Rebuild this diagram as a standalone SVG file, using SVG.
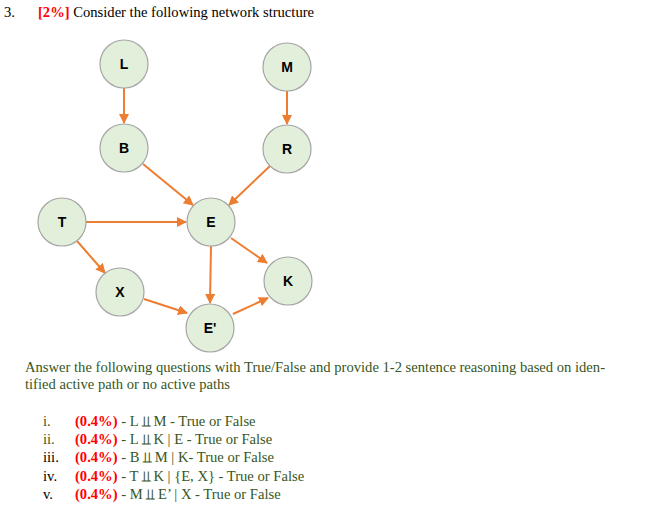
<svg xmlns="http://www.w3.org/2000/svg" width="667" height="518" viewBox="0 0 667 518">
<style>
.n{fill:#E2EFDA;stroke:#A5A5A5;stroke-width:1.2}
.l{font-family:"Liberation Sans",Arial,sans-serif;font-weight:bold;font-size:14px;text-anchor:middle;fill:#000}
.c{stroke:#ED7D31;stroke-width:2;fill:none;marker-end:url(#a)}
.t{font-family:"Liberation Serif","Times New Roman",serif;font-size:14.6px;fill:#000}
.g{fill:#375623}
.r{fill:#FF0000;font-weight:bold}
</style>
<defs><marker id="a" viewBox="0 0 10 10" refX="9" refY="5" markerWidth="5" markerHeight="5" orient="auto"><path d="M0,0L10,5L0,10z" fill="#ED7D31"/></marker></defs>
<rect width="667" height="518" fill="#fff"/>
<text class="t" x="4" y="17">3.<tspan x="38" class="r">[2%]</tspan><tspan> Consider the following network structure</tspan></text>
<g id="connectors">
<line class="c" x1="124" y1="88" x2="124" y2="123"/>
<line class="c" x1="287" y1="91" x2="287" y2="124"/>
<line class="c" x1="143" y1="164" x2="193" y2="205"/>
<line class="c" x1="270" y1="166" x2="229" y2="205"/>
<line class="c" x1="86" y1="222" x2="186" y2="222"/>
<line class="c" x1="77" y1="241" x2="105" y2="273"/>
<line class="c" x1="231" y1="238" x2="267" y2="263"/>
<line class="c" x1="211" y1="246" x2="210" y2="303"/>
<line class="c" x1="144" y1="299" x2="187" y2="313"/>
<line class="c" x1="233" y1="314" x2="268" y2="298"/>
</g>
<g id="L"><circle class="n" cx="124" cy="64" r="24"/><text class="l" x="124" y="69">L</text></g>
<g id="M"><circle class="n" cx="287" cy="67" r="24"/><text class="l" x="287" y="72">M</text></g>
<g id="B"><circle class="n" cx="124" cy="148" r="24"/><text class="l" x="124" y="153">B</text></g>
<g id="R"><circle class="n" cx="287" cy="149" r="24"/><text class="l" x="287" y="154">R</text></g>
<g id="T"><circle class="n" cx="62" cy="222" r="24"/><text class="l" x="62" y="227">T</text></g>
<g id="E"><circle class="n" cx="211" cy="222" r="24"/><text class="l" x="211" y="227">E</text></g>
<g id="X"><circle class="n" cx="120" cy="292" r="24"/><text class="l" x="120" y="297">X</text></g>
<g id="K"><circle class="n" cx="288" cy="281" r="24"/><text class="l" x="288" y="286">K</text></g>
<g id="E2"><circle class="n" cx="210" cy="328" r="24"/><text class="l" x="210" y="333">E'</text></g>
<text class="t g" x="25" y="372">Answer the following questions with True/False and provide 1-2 sentence reasoning based on iden-</text>
<text class="t g" x="25" y="389">tified active path or no active paths</text>
<text class="t g" x="43" y="426">i.<tspan x="75" class="r">(0.4%)</tspan><tspan> - L ⫫ M - True or False</tspan></text>
<text class="t g" x="43" y="444">ii.<tspan x="75" class="r">(0.4%)</tspan><tspan> - L ⫫ K | E - True or False</tspan></text>
<text class="t" x="43" y="462">iii.<tspan x="75" class="r">(0.4%)</tspan><tspan class="g"> - B ⫫ M | K- True or False</tspan></text>
<text class="t" x="43" y="481">iv.<tspan x="75" class="r">(0.4%)</tspan><tspan class="g"> - T ⫫ K | {E, X} - True or False</tspan></text>
<text class="t" x="43" y="499">v.<tspan x="75" class="r">(0.4%)</tspan><tspan class="g"> - M ⫫ E’ | X - True or False</tspan></text>
</svg>
